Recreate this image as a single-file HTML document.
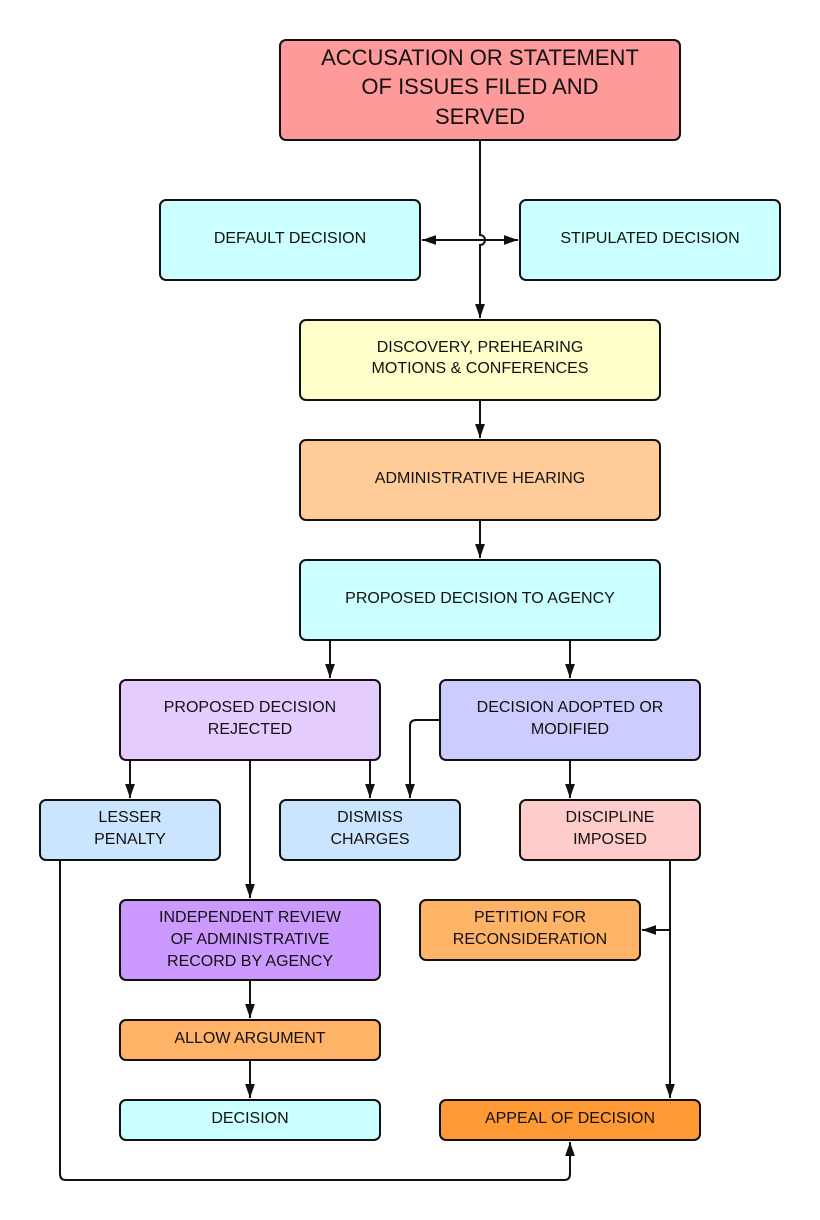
<!DOCTYPE html>
<html><head><meta charset="utf-8"><style>
html,body{margin:0;padding:0;background:#fff;}
svg{display:block;}
text{font-family:"Liberation Sans",Arial,sans-serif;font-size:16px;fill:#111;text-anchor:middle;}
.b{stroke:#111;stroke-width:2;}
.l{stroke:#111;stroke-width:2;fill:none;}
</style></head><body>
<svg width="820" height="1220" viewBox="0 0 820 1220" xmlns="http://www.w3.org/2000/svg">
<defs>
<marker id="a" viewBox="0 0 10 10" refX="10" refY="5" markerWidth="8" markerHeight="8" markerUnits="userSpaceOnUse" orient="auto">
<path d="M0,0 L10,5 L0,10 z" fill="#111"/></marker>
<marker id="a2" viewBox="0 0 10 10" refX="10" refY="5" markerWidth="14" markerHeight="14" markerUnits="userSpaceOnUse" orient="auto">
<path d="M0,1.5 L10,5 L0,8.5 z" fill="#111"/></marker>
</defs>
<!-- connectors -->
<path class="l" d="M480,140 V235 A5,5 0 0 1 480,245 V318" marker-end="url(#a2)"/>
<path class="l" d="M480,240 H422" marker-end="url(#a2)"/>
<path class="l" d="M480,240 H518" marker-end="url(#a2)"/>
<path class="l" d="M480,400 V438" marker-end="url(#a2)"/>
<path class="l" d="M480,520 V558" marker-end="url(#a2)"/>
<path class="l" d="M330,640 V678" marker-end="url(#a2)"/>
<path class="l" d="M570,640 V678" marker-end="url(#a2)"/>
<path class="l" d="M130,760 V798" marker-end="url(#a2)"/>
<path class="l" d="M370,760 V798" marker-end="url(#a2)"/>
<path class="l" d="M250,760 V898" marker-end="url(#a2)"/>
<path class="l" d="M440,720 H416 Q410,720 410,726 V798" marker-end="url(#a2)"/>
<path class="l" d="M570,760 V798" marker-end="url(#a2)"/>
<path class="l" d="M670,860 V1098" marker-end="url(#a2)"/>
<path class="l" d="M670,930 H642" marker-end="url(#a2)"/>
<path class="l" d="M250,980 V1018" marker-end="url(#a2)"/>
<path class="l" d="M250,1060 V1098" marker-end="url(#a2)"/>
<path class="l" d="M60,860 V1174 Q60,1180 66,1180 H564 Q570,1180 570,1174 V1142" marker-end="url(#a2)"/>
<!-- boxes -->
<rect class="b" x="280" y="40" width="400" height="100" rx="6" fill="#fe9a9a"/>
<text x="480" y="65" style="font-size:22px">ACCUSATION OR STATEMENT</text>
<text x="480" y="94" style="font-size:22px">OF ISSUES FILED AND</text>
<text x="480" y="124" style="font-size:22px">SERVED</text>
<rect class="b" x="160" y="200" width="260" height="80" rx="6" fill="#ccffff"/>
<text x="290" y="243">DEFAULT DECISION</text>
<rect class="b" x="520" y="200" width="260" height="80" rx="6" fill="#ccffff"/>
<text x="650" y="243">STIPULATED DECISION</text>
<rect class="b" x="300" y="320" width="360" height="80" rx="6" fill="#ffffcc"/>
<text x="480" y="352">DISCOVERY, PREHEARING</text>
<text x="480" y="373">MOTIONS &amp; CONFERENCES</text>
<rect class="b" x="300" y="440" width="360" height="80" rx="6" fill="#ffcc99"/>
<text x="480" y="483">ADMINISTRATIVE HEARING</text>
<rect class="b" x="300" y="560" width="360" height="80" rx="6" fill="#ccffff"/>
<text x="480" y="603">PROPOSED DECISION TO AGENCY</text>
<rect class="b" x="120" y="680" width="260" height="80" rx="6" fill="#e5ccff"/>
<text x="250" y="712">PROPOSED DECISION</text>
<text x="250" y="734">REJECTED</text>
<rect class="b" x="440" y="680" width="260" height="80" rx="6" fill="#ccccff"/>
<text x="570" y="712">DECISION ADOPTED OR</text>
<text x="570" y="734">MODIFIED</text>
<rect class="b" x="40" y="800" width="180" height="60" rx="6" fill="#cce5ff"/>
<text x="130" y="822">LESSER</text>
<text x="130" y="844">PENALTY</text>
<rect class="b" x="280" y="800" width="180" height="60" rx="6" fill="#cce5ff"/>
<text x="370" y="822">DISMISS</text>
<text x="370" y="844">CHARGES</text>
<rect class="b" x="520" y="800" width="180" height="60" rx="6" fill="#ffcccc"/>
<text x="610" y="822">DISCIPLINE</text>
<text x="610" y="844">IMPOSED</text>
<rect class="b" x="120" y="900" width="260" height="80" rx="6" fill="#cc99ff"/>
<text x="250" y="922">INDEPENDENT REVIEW</text>
<text x="250" y="944">OF ADMINISTRATIVE</text>
<text x="250" y="966">RECORD BY AGENCY</text>
<rect class="b" x="420" y="900" width="220" height="60" rx="6" fill="#ffb366"/>
<text x="530" y="922">PETITION FOR</text>
<text x="530" y="944">RECONSIDERATION</text>
<rect class="b" x="120" y="1020" width="260" height="40" rx="6" fill="#ffb366"/>
<text x="250" y="1043">ALLOW ARGUMENT</text>
<rect class="b" x="120" y="1100" width="260" height="40" rx="6" fill="#ccffff"/>
<text x="250" y="1123">DECISION</text>
<rect class="b" x="440" y="1100" width="260" height="40" rx="6" fill="#ff9933"/>
<text x="570" y="1123">APPEAL OF DECISION</text>
</svg>
</body></html>
